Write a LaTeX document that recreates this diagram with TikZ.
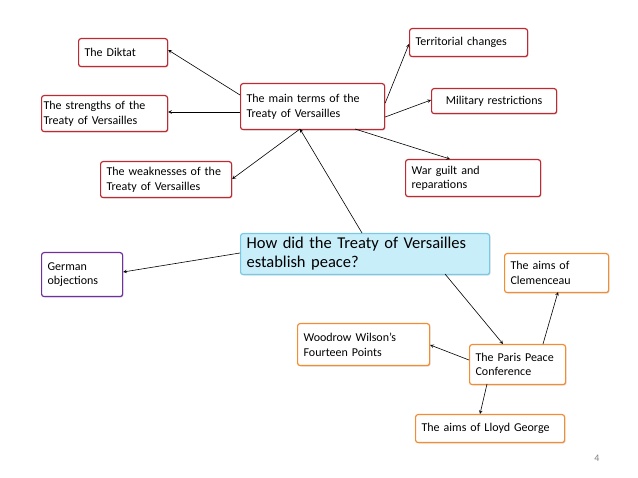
\documentclass[tikz,border=0pt]{standalone}
\usepackage{fontspec}
\setmainfont{Carlito}
\usetikzlibrary{shadows}
\definecolor{rb}{RGB}{192,40,50}
\definecolor{ob}{RGB}{245,140,50}
\definecolor{pb}{RGB}{112,48,160}
\definecolor{cb}{RGB}{120,200,230}
\definecolor{cf}{RGB}{200,238,250}
\tikzset{
 bx/.style={draw=#1,line width=1.2pt,rounded corners=2.5pt,fill=white,anchor=north west,align=left,inner xsep=6pt,inner ysep=2pt,font=\fontsize{12}{14.5}\selectfont,drop shadow={opacity=0.25,shadow xshift=1pt,shadow yshift=-1pt}},
 ar/.style={-stealth,line width=0.6pt}
}
\begin{document}
\begin{tikzpicture}[x=1pt,y=-1pt]
\useasboundingbox (0,0) rectangle (638,478);
\node[bx=rb,minimum width=89pt,minimum height=28pt,text width=77pt] (dik) at (78,38) {The Diktat};
\node[bx=rb,minimum width=126pt,minimum height=36pt,text width=114pt,inner xsep=2pt,text width=122pt] (str) at (41,95) {The strengths of the\\Treaty of Versailles};
\node[bx=rb,minimum width=131pt,minimum height=36pt,text width=119pt] (weak) at (100,161) {The weaknesses of the\\Treaty of Versailles};
\node[bx=rb,minimum width=144pt,minimum height=46pt,text width=132pt] (main) at (240,83) {The main terms of the\\Treaty of Versailles};
\node[bx=rb,minimum width=118pt,minimum height=28pt,text width=106pt] (terr) at (409,28) {Territorial changes};
\node[bx=rb,minimum width=125pt,minimum height=25pt,text width=113pt,align=center] (mil) at (431,88) {Military restrictions};
\node[bx=rb,minimum width=135pt,minimum height=37pt,text width=123pt] (war) at (405,159) {War guilt and\\reparations};
\node[bx=cb,fill=cf,minimum width=249pt,minimum height=41pt,text width=237pt,font=\fontsize{16.5}{19}\selectfont,inner ysep=1pt] (q) at (240,233) {How did the Treaty of Versailles\\establish peace?};
\node[bx=pb,minimum width=81pt,minimum height=44pt,text width=69pt] (ger) at (41,252) {German\\objections};
\node[bx=ob,minimum width=104pt,minimum height=39pt,text width=92pt] (clem) at (504,253) {The aims of\\Clemenceau};
\node[bx=ob,minimum width=132pt,minimum height=42pt,text width=120pt] (wil) at (297,323) {Woodrow Wilson’s\\Fourteen Points};
\node[bx=ob,minimum width=96pt,minimum height=40pt,text width=84pt] (ppc) at (469,344) {The Paris Peace\\Conference};
\node[bx=ob,minimum width=149pt,minimum height=28pt,text width=137pt] (lloyd) at (415,414) {The aims of Lloyd George};
\node[font=\fontsize{10}{12}\selectfont,text=gray] (pg) at (597,458) {4};
\draw[ar] (main.west|-0,95) -- (dik.east|-0,50);
\draw[ar] (main.west|-0,112) -- (str.east|-0,112);
\draw[ar] (300,129) -- (weak.east|-0,179);
\draw[ar] (main.east|-0,103) -- (terr.west|-0,44);
\draw[ar] (main.east|-0,117) -- (mil.west|-0,100);
\draw[ar] (355,129) -- (450,159);
\draw[ar] (362,233) -- (300,129);
\draw[ar] (q.west|-0,253) -- (ger.east|-0,272);
\draw[ar] (445,274) -- (503,344);
\draw[ar] (543,344) -- (558,292);
\draw[ar] (ppc.west|-0,360) -- (wil.east|-0,345);
\draw[ar] (487,384) -- (480,414);
\end{tikzpicture}
\end{document}
